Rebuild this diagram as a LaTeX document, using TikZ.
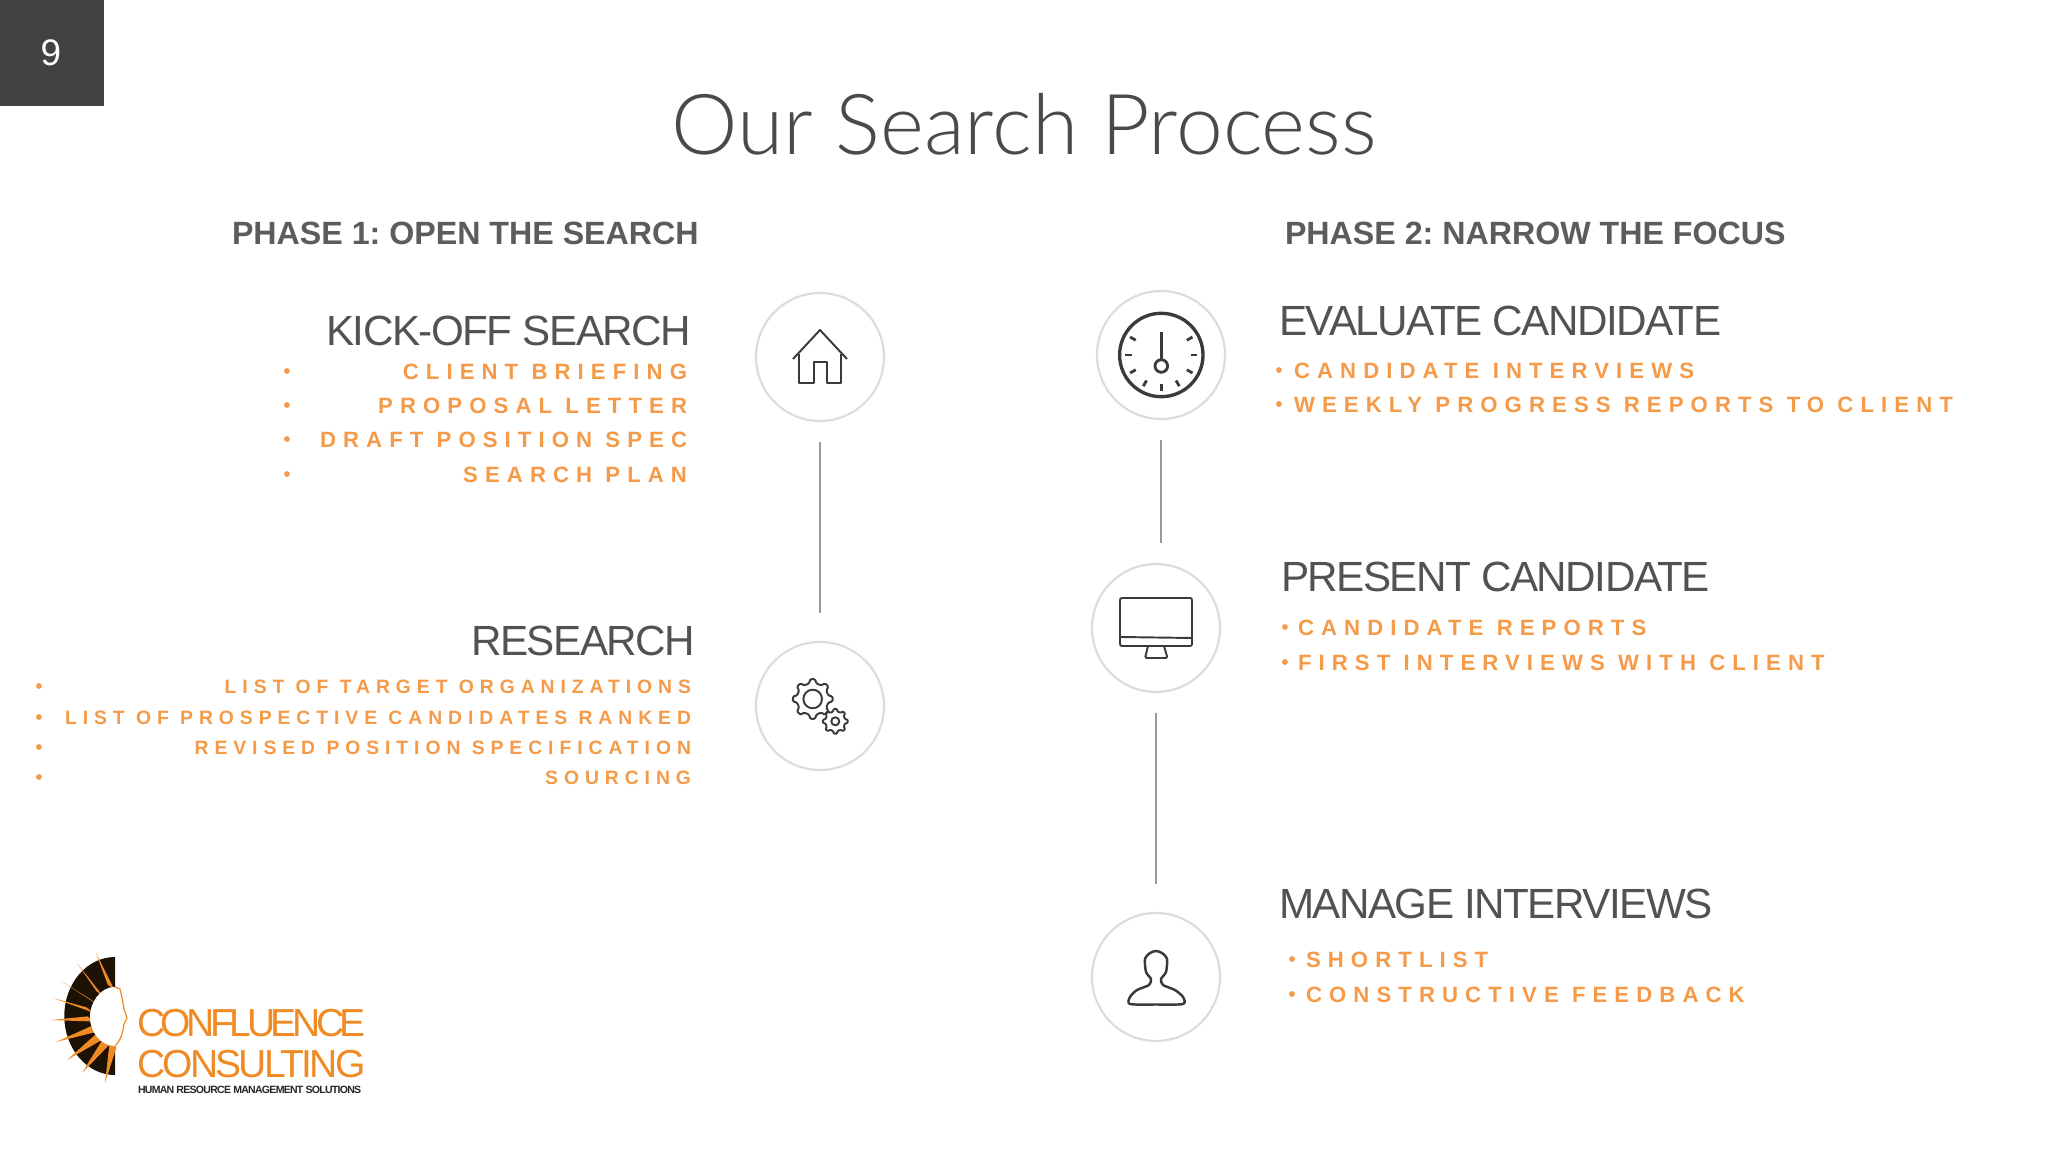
\documentclass[tikz,border=0pt]{standalone}
\usepackage{fontspec}
\setmainfont{Liberation Sans}
\newfontfamily\lightfont{Lato Light}
\newfontfamily\tightfont[LetterSpace=-3.6]{Liberation Sans}
\newfontfamily\logoafont[LetterSpace=-11.4]{Liberation Sans}
\newfontfamily\logobfont[LetterSpace=-7]{Liberation Sans}
\newfontfamily\wideAfont[LetterSpace=32]{Liberation Sans}
\newfontfamily\wideBfont[LetterSpace=30.7]{Liberation Sans}
\usetikzlibrary{positioning}
\definecolor{slate}{HTML}{4A4A4A}
\definecolor{headgray}{HTML}{525252}
\definecolor{tabgray}{HTML}{424242}
\definecolor{ringgray}{HTML}{DDDBDD}
\definecolor{linegray}{HTML}{9A9A9A}
\definecolor{iconink}{HTML}{3A3A3A}
\definecolor{amber}{HTML}{F59A48}
\definecolor{logoamber}{HTML}{F08A24}
\tikzset{
  ring/.style={circle,draw=ringgray,line width=.6pt,minimum size=128*.01cm,inner sep=0},
  link/.style={linegray,line width=.55pt},
  icon/.style={iconink,line width=.55pt,line join=round},
}
\tikzstyle{every node}=[inner sep=0,outer sep=0]
\tikzstyle{title}=[slate,font=\lightfont\fontsize{23.9}{28}\selectfont]
\tikzstyle{phase}=[slate!90,font=\bfseries\fontsize{9.15}{11}\selectfont]
\tikzstyle{stephead}=[headgray,font=\tightfont\fontsize{12}{14}\selectfont]
\tikzstyle{item}=[amber,font=\wideAfont\bfseries\fontsize{6.3}{8}\selectfont]
\tikzstyle{smallitem}=[amber,font=\wideBfont\bfseries\fontsize{5.5}{7}\selectfont]
\tikzstyle{dot}=[amber,font=\fontsize{6}{8}\selectfont]
\frenchspacing
\begin{document}
\begin{tikzpicture}[x=.01cm,y=-.01cm]
    \useasboundingbox (0,0) rectangle (2048,1152);
    \fill[white] (0,0) rectangle (2048,1152);

    \fill[tabgray] (0,0) rectangle (104,106);
    \node[white,font=\fontsize{10.5}{12}\selectfont] (pagenum) at (51,53) {9};
    \node[title] (heading) at (1024,124) {Our Search Process};
    \node[phase,anchor=west] (phaseone) at (232,233) {PHASE 1: OPEN THE SEARCH};
    \node[phase,anchor=west] (phasetwo) at (1285,233) {PHASE 2: NARROW THE FOCUS};

    % phase 1
    \node[stephead,anchor=east] (kickoff) at (691,331) {KICK-OFF SEARCH};
    \node[item,anchor=east] (k1) at (687,372) {CLIENT BRIEFING};
    \node[item,anchor=east] (k2) at (687,406) {PROPOSAL LETTER};
    \node[item,anchor=east] (k3) at (687,440) {DRAFT POSITION SPEC};
    \node[item,anchor=east] (k4) at (687,475) {SEARCH PLAN};
    \foreach \yy/\nn in {374/a,408/b,442/c,477/d}
      \node[dot] (kd\nn) at (287,\yy) {•};

    \node[stephead,anchor=east] (research) at (695,641) {RESEARCH};
    \node[smallitem,anchor=east] (r1) at (691,687) {LIST OF TARGET ORGANIZATIONS};
    \node[smallitem,anchor=east] (r2) at (691,718) {LIST OF PROSPECTIVE CANDIDATES RANKED};
    \node[smallitem,anchor=east] (r3) at (691,748) {REVISED POSITION SPECIFICATION};
    \node[smallitem,anchor=east] (r4) at (691,778) {SOURCING};
    \foreach \yy/\nn in {689/a,720/b,750/c,780/d}
      \node[dot] (rd\nn) at (39,\yy) {•};

    % phase 2
    \node[stephead,anchor=west] (evaluate) at (1279,321) {EVALUATE CANDIDATE};
    \node[item,anchor=west] (e1) at (1294,371) {CANDIDATE INTERVIEWS};
    \node[item,anchor=west] (e2) at (1294,405) {WEEKLY PROGRESS REPORTS TO CLIENT};
    \node[dot] (ed1) at (1279,373) {•};
    \node[dot] (ed2) at (1279,407) {•};

    \node[stephead,anchor=west] (present) at (1281,577) {PRESENT CANDIDATE};
    \node[item,anchor=west] (p1) at (1298,628) {CANDIDATE REPORTS};
    \node[item,anchor=west] (p2) at (1298,663) {FIRST INTERVIEWS WITH CLIENT};
    \node[dot] (pd1) at (1285,630) {•};
    \node[dot] (pd2) at (1285,665) {•};

    \node[stephead,anchor=west] (manage) at (1279,904) {MANAGE INTERVIEWS};
    \node[item,anchor=west] (m1) at (1306,960) {SHORTLIST};
    \node[item,anchor=west] (m2) at (1306,995) {CONSTRUCTIVE FEEDBACK};
    \node[dot] (md1) at (1292,962) {•};
    \node[dot] (md2) at (1292,997) {•};

    % rings and links
    \node[ring] (home) at (820,357) {};
    \node[ring] (gears) at (820,706) {};
    \node[ring] (gauge) at (1161,355) {};
    \node[ring] (monitor) at (1156,628) {};
    \node[ring] (person) at (1156,977) {};
    \draw[link,shorten <=21*.01cm,shorten >=29*.01cm] (home) -- (gears);
    \draw[link,shorten <=21*.01cm,shorten >=85*.01cm] (gauge) -- (gauge |- monitor);
    \draw[link,shorten <=21*.01cm,shorten >=29*.01cm] (monitor) -- (person);

    % house
    \begin{scope}[shift={(820,357)}]
      \draw[icon] (-27,2)--(0,-27)--(27,2);
      \draw[icon] (-21,-3)--(-21,26)--(-6,26)--(-6,5)--(7,5)--(7,26)--(21,26)--(21,-3);
    \end{scope}

    % cogs
    \begin{scope}[shift={(812.7,699)}]
      \draw[icon,rounded corners=1.2*.01cm] (0:20)
        \foreach \a in {0,45,...,315}{
          -- ({\a+7}:20) -- ({\a+13}:16) -- ({\a+32}:16) -- ({\a+38}:20)
        } -- cycle;
      \draw[icon] (0,0) circle (9.3);
    \end{scope}
    \begin{scope}[shift={(835.3,721.3)}]
      \draw[icon,rounded corners=.8*.01cm] (0:12.5)
        \foreach \a in {0,45,...,315}{
          -- ({\a+7}:12.5) -- ({\a+13}:10) -- ({\a+32}:10) -- ({\a+38}:12.5)
        } -- cycle;
      \draw[icon] (0,0) circle (4);
    \end{scope}

    % gauge
    \begin{scope}[shift={(1161.3,355)}]
      \draw[icon,line width=.95pt] (0,0) circle (41.7);
      \foreach \a in {0,30,60,90,120,150,180,-30,-150}
        \draw[icon,line width=.8pt] (\a:29.5) -- (\a:36);
      \draw[icon,line width=.8pt] (0,-23) -- (0,5);
      \draw[icon,line width=.8pt] (0,11) circle (6.3);
    \end{scope}

    % monitor
    \begin{scope}[shift={(1156,628)}]
      \draw[icon,rounded corners=2*.01cm] (-36,-30) rectangle (36,18);
      \draw[icon] (-36,9) -- (36,10);
      \draw[icon,rounded corners=1.5*.01cm] (-8,18) -- (-11,30) -- (11.5,30) -- (8,18);
    \end{scope}

    % bust
    \begin{scope}[shift={(1156,977)}]
      \draw[icon,line width=.7pt] plot[smooth cycle,tension=.45] coordinates {
        (-26,27) (-26,20) (-19,13) (-7,8) (-5,2) (-10,-5) (-11,-18) (-6,-24) (0,-26)
        (6,-24) (11,-18) (10,-5) (5,2) (7,8) (19,13) (27,20) (27,27) (0,27.5)};
    \end{scope}

    % logo
    \begin{scope}[shift={(115,1016)}]
      \fill[black!88!logoamber] (0,-59) arc (-90:-270:50.7 and 59) -- (0,30)
        .. controls (-15,30) and (-25,15) .. (-25,1)
        .. controls (-25,-13) and (-15,-29) .. (0,-29) -- cycle;
      \foreach \tx/\ty/\bx/\by in {
        -19/-63/-4/-29, -38/-53/-15/-22, -54/-35/-21/-14, -62/-18/-25/-6,
        -64/4/-24/3, -59/26/-21/13, -48/44/-16/21, -33/57/-9/26, -10/67/-2/29}
        \fill[logoamber] (\tx,\ty) -- ({\bx-3.4},{\by-2.6}) -- ({\bx+3.4},{\by+2.6}) -- cycle;
      \fill[white] (0,-29) .. controls (-15,-29) and (-25,-13) .. (-25,1)
        .. controls (-25,15) and (-15,30) .. (0,30) -- cycle;
      \draw[logoamber,line width=.35pt] (0,-29) -- (5,-27) .. controls (7,-20) and (8,-12) .. (9,-7)
        -- (12,2) -- (9,8) .. controls (8,16) and (6,24) .. (0,30);
    \end{scope}
    \node[logoamber,font=\logoafont\fontsize{11.1}{13}\selectfont,anchor=west] (conf) at (137,1023) {CONFLUENCE};
    \node[logoamber,font=\logobfont\fontsize{11.1}{13}\selectfont,anchor=west] (cons) at (137,1064) {CONSULTING};
    \node[black!85,font=\logobfont\bfseries\fontsize{3.0}{4}\selectfont,anchor=west] (tagline) at (138,1090) {HUMAN RESOURCE MANAGEMENT SOLUTIONS};
\end{tikzpicture}
\end{document}
